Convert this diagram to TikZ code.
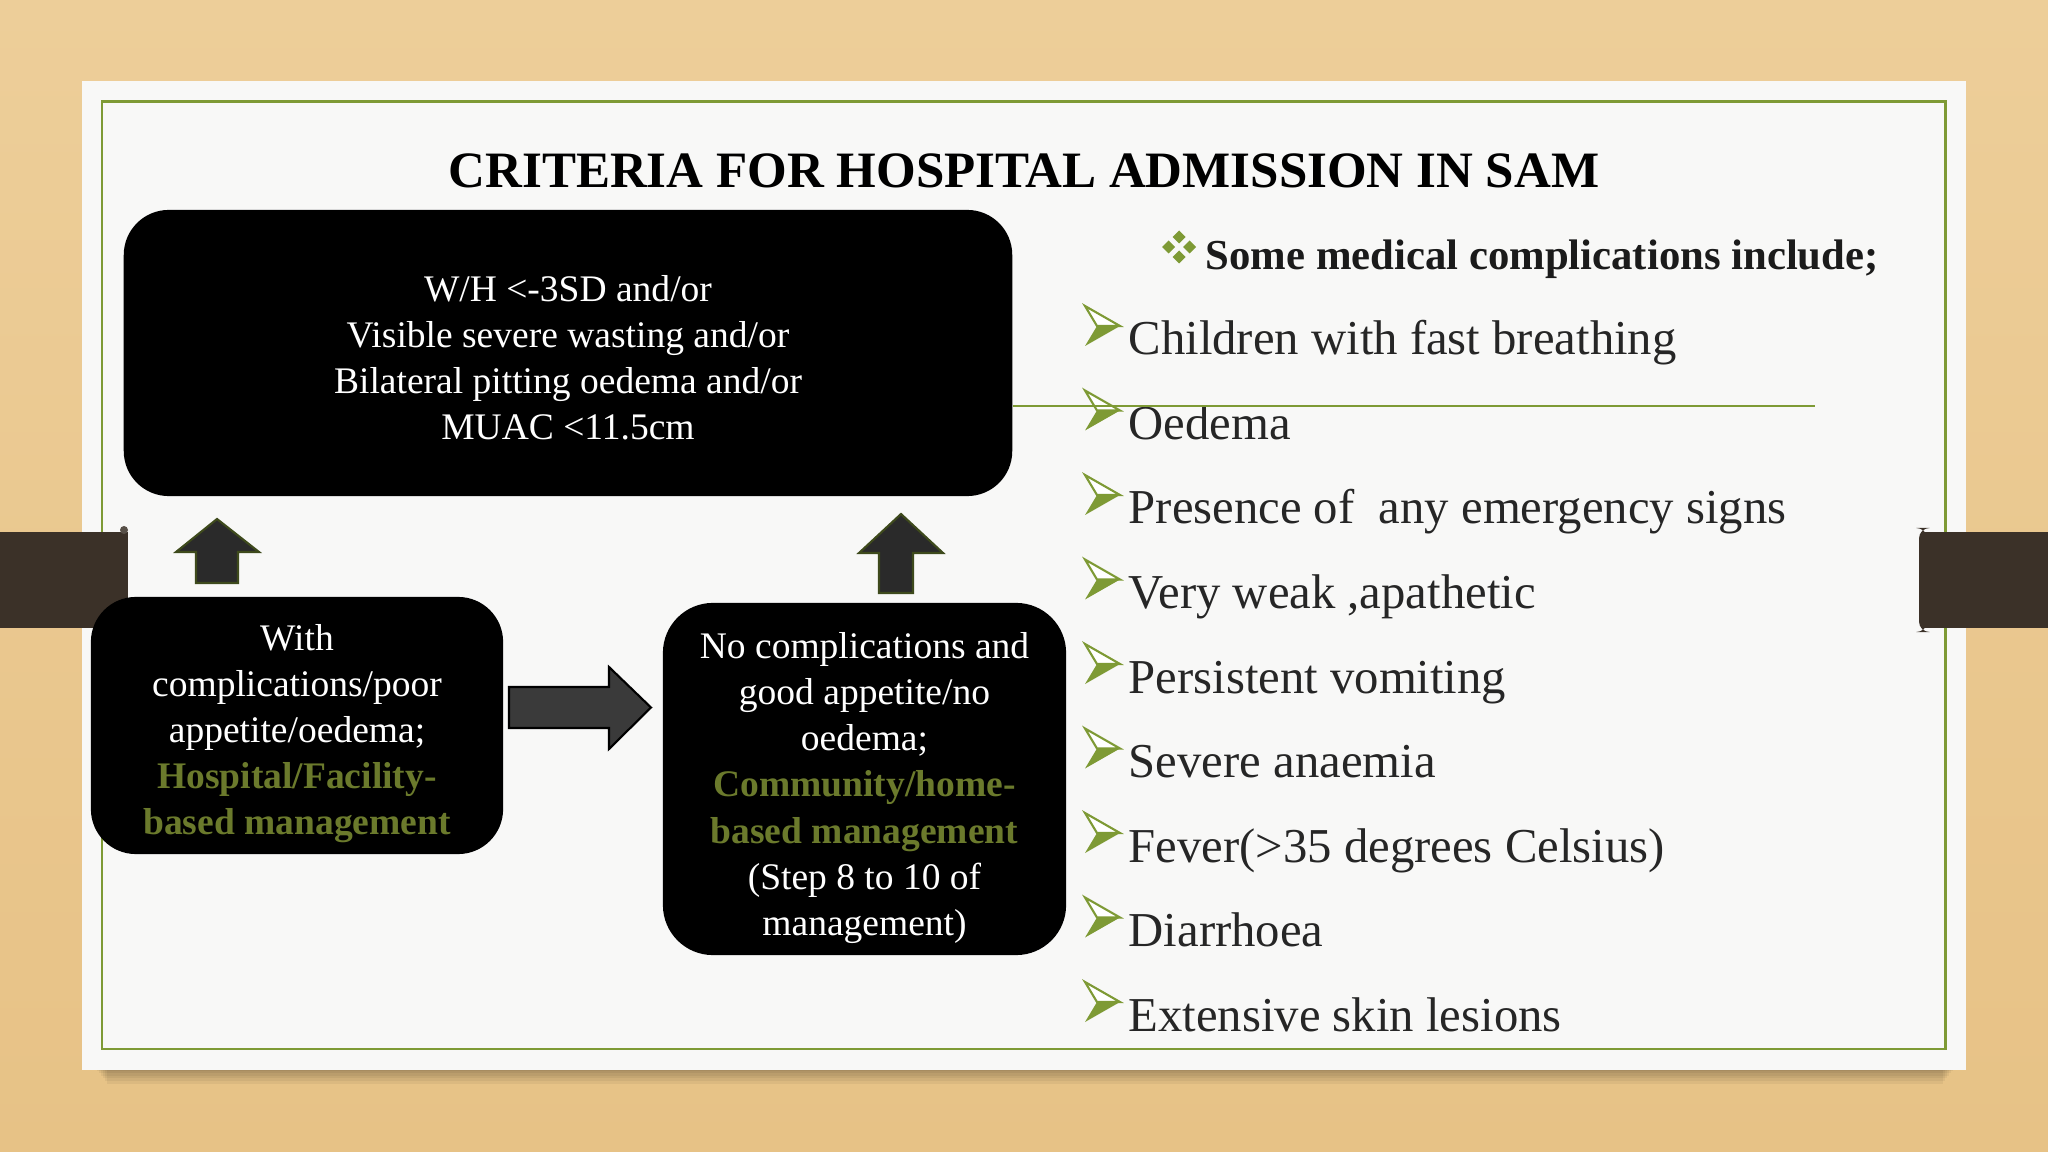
\documentclass[tikz,border=0pt]{standalone}
\usepackage{fontspec}
\setmainfont{Liberation Serif}
\usetikzlibrary{positioning}

\definecolor{wood}{HTML}{E7C286}
\definecolor{woodlight}{HTML}{EDCE99}
\definecolor{card}{HTML}{F8F8F7}
\definecolor{frame}{HTML}{7E9A35}
\definecolor{band}{HTML}{3B3128}
\definecolor{olivetext}{HTML}{6B7A2C}
\definecolor{arrowfill}{HTML}{2A2A2A}
\definecolor{arrowedge}{HTML}{3E4A1C}
\definecolor{rightfill}{HTML}{3A3A3A}
\definecolor{inktext}{HTML}{262626}

\newcommand\boxtextfont{\fontsize{10.67}{13.1}\selectfont}
\newcommand\greenbold[1]{\textcolor{olivetext}{\bfseries #1}}

\begin{document}
\begin{tikzpicture}[
  x=0.01cm, y=-0.01cm,
  blackbox/.style={fill=black, rounded corners=0.45cm, inner sep=0pt},
  boxtext/.style={text=white, align=center, font=\boxtextfont, inner sep=0pt},
  blockarrow/.style={fill=arrowfill, draw=arrowedge, line width=0.6pt, line join=miter},
  item/.style={anchor=base west, text=inktext, font=\fontsize{13.85}{16}\selectfont, inner sep=0pt},
  greenrule/.style={draw=frame, line width=0.85pt},
  chevron/.pic={
    \fill[frame] (12,20) -- (35,20) -- (0,40) -- cycle;
    \draw[frame, line width=0.6pt, line join=miter, fill=white] (0,0) -- (35,20) -- (12,20) -- cycle;
  },
  diamondmark/.pic={
    \foreach \dx/\dy in {0/-10, -10.5/0, 10.5/0, 0/10}
      \fill[frame, shift={(\dx,\dy)}] (0,-6.5) -- (6.5,0) -- (0,6.5) -- (-6.5,0) -- cycle;
  },
]
  \useasboundingbox (0,0) rectangle (2048,1152);

  % wooden table, card and its shadow
  \shade[top color=woodlight, bottom color=wood] (0,0) rectangle (2048,1152);
  \foreach \k in {1,...,6}
    \fill[black, opacity=0.05] (95+2*\k,1068) rectangle (1955-2*\k,{1068+2.6*\k});
  \fill[card] (82,81) rectangle (1966,1070);
  \draw[greenrule] (102,102) rectangle (1945,1049);

  % clips holding the card
  \fill[band] (0,532) rectangle (128,628);
  \fill[band!85!white] (124,530) circle (4);
  \fill[band] (1921,532) rectangle (2048,628);
  \fill[band, rounded corners=3] (1919,528) rectangle (1927,632);

  \node[anchor=base, font=\fontsize{14.5}{17}\selectfont\bfseries, text=black] (title) at (1024,188)
    {CRITERIA FOR HOSPITAL ADMISSION IN SAM};

  % flow boxes
  \node[blackbox, minimum width=8.88cm, minimum height=2.86cm] (criteria) at (568,353) {};
  \node[blackbox, minimum width=4.12cm, minimum height=2.57cm] (hospital) at (297,725.5) {};
  \node[blackbox, rounded corners=0.5cm, minimum width=4.03cm, minimum height=3.52cm] (community) at (864.5,779) {};

  \node[boxtext] (criteriatext) at ([yshift=-0.05cm]criteria.center)
    {W/H <-3SD and/or\\Visible severe wasting and/or\\Bilateral pitting oedema and/or\\MUAC <11.5cm};
  \node[boxtext] (hospitaltext) at ([yshift=-0.08cm]hospital.center)
    {With\\complications/poor\\appetite/oedema;\\\greenbold{Hospital/Facility-}\\\greenbold{based management}};
  \node[boxtext] (communitytext) at ([yshift=-0.09cm]community.center)
    {No complications and\\good appetite/no\\oedema;\\\greenbold{Community/home-}\\\greenbold{based management}\\(Step 8 to 10 of\\management)};

  % block arrows
  \draw[blockarrow] (196,583) -- (196,552) -- (176,552) -- (217,519) -- (259,552) -- (238,552) -- (238,583) -- cycle;
  \draw[blockarrow] (879,593) -- (879,553) -- (859,553) -- (901,514) -- (943,553) -- (913,553) -- (913,593) -- cycle;
  \draw[blockarrow, fill=rightfill, draw=black] (509,687) -- (609,687) -- (609,667) -- (651,707.5) -- (609,749) -- (609,728) -- (509,728) -- cycle;

  % complications list
  \pic at (1179,247) {diamondmark};
  \node[anchor=base west, font=\fontsize{12.15}{15}\selectfont\bfseries, text=inktext!70!black, inner sep=0pt] (heading) at (1205,270)
    {Some medical complications include;};
  \foreach \txt [count=\i from 0] in {Children with fast breathing, Oedema, Presence of~ any emergency signs,
      {Very weak ,apathetic}, Persistent vomiting, Severe anaemia, Fever(>35 degrees Celsius), Diarrhoea,
      Extensive skin lesions} {
    \node[item] (item\i) at (1128,{355+84.5*\i}) {\txt};
    \pic at (1085,{306+84.5*\i}) {chevron};
  }

  \coordinate (ruleend) at (1815,406);
  \draw[greenrule] (criteria.east |- ruleend) -- (ruleend);
\end{tikzpicture}
\end{document}
